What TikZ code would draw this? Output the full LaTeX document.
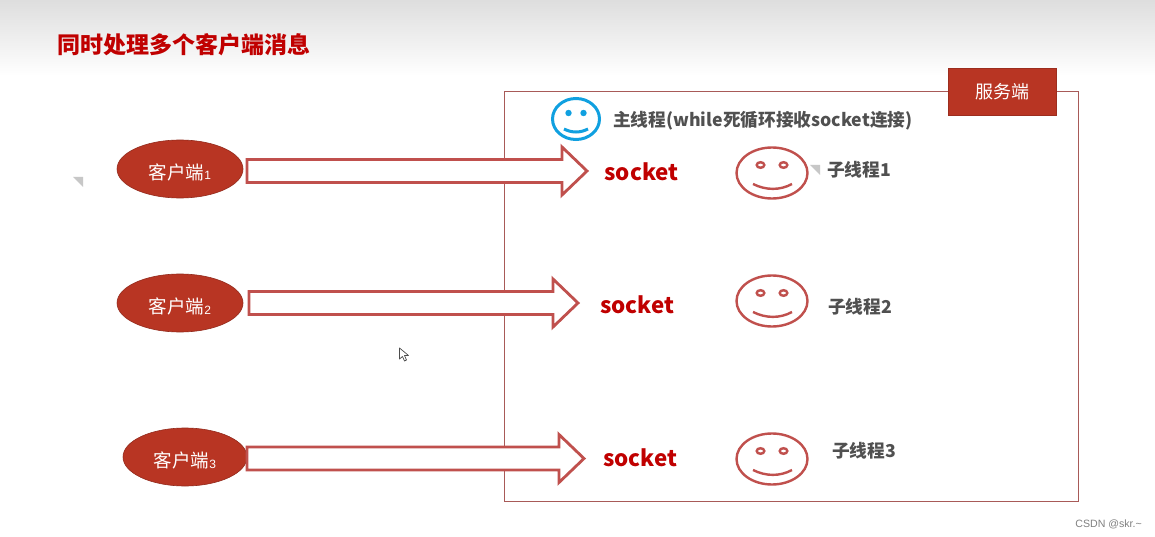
\documentclass[tikz,border=0pt]{standalone}
\usepackage{fontspec}
\setmainfont{Noto Sans CJK SC}
\newfontfamily\lat{Liberation Sans}
\usetikzlibrary{shapes.geometric,calc}
\definecolor{brick}{HTML}{B83523}
\definecolor{edge}{HTML}{C0504D}
\definecolor{boxline}{HTML}{A85A58}
\definecolor{titlered}{HTML}{C00000}
\definecolor{sky}{HTML}{10A0E0}
\definecolor{labelgray}{HTML}{505050}
\tikzset{
  x=1pt,y=-1pt,
  client/.style={ellipse,draw=brick!80!black,fill=brick,line width=.6pt,inner sep=0pt,minimum width=126pt,minimum height=58pt,text=white,font=\fontsize{18.5}{18}\selectfont},
  blockarrow/.style={draw=edge,line width=2.8pt,fill=white,line join=miter},
  sockettext/.style={text=titlered,font=\fontsize{22.3}{24}\selectfont\bfseries,inner sep=0pt},
  threadtext/.style={text=labelgray,font=\fontsize{17.7}{18}\selectfont\bfseries,inner sep=0pt},
  redface/.style={draw=edge,line width=2.4pt,fill=none},
  blueface/.style={draw=sky,line width=3pt,fill=none},
  marker/.style={fill=black!22,draw=none},
}
\newcommand{\blockarr}[3]{% start, tip, shaft half height
  \draw[blockarrow] ($(#1)+(0,-#3)$) -- ($(#2)+(-25,-#3)$) -- ($(#2)+(-25,-24)$) -- (#2)
    -- ($(#2)+(-25,24)$) -- ($(#2)+(-25,#3)$) -- ($(#1)+(0,#3)$) -- cycle;}
\newcommand{\redsmile}[1]{%
  \draw[redface] (#1) ellipse [x radius=35.5,y radius=25.5];
  \draw[redface] ($(#1)+(-11.5,-8)$) ellipse [x radius=3.8,y radius=2.8];
  \draw[redface] ($(#1)+(11.5,-8)$) ellipse [x radius=3.8,y radius=2.8];
  \draw[redface] ($(#1)+(-19,11)$) .. controls ($(#1)+(-6,17.5)$) and ($(#1)+(8,17.5)$) .. ($(#1)+(20,11)$);}
\newcommand{\clienttext}[1]{\raisebox{-10.5pt}[0pt][0pt]{客户端\raisebox{-.5pt}{\lat\fontsize{12}{12}\selectfont #1}}}
\begin{document}
\begin{tikzpicture}
\useasboundingbox (0,0) rectangle (1155,537);
\fill[white] (0,0) rectangle (1155,537);
\shade[top color=black!13,bottom color=white] (0,0) rectangle (1155,76);
\node[anchor=west,inner sep=0pt,text=titlered,font=\fontsize{23}{23}\selectfont\bfseries] (title) at (57,45) {同时处理多个客户端消息};
% server frame
\draw[boxline,line width=.9pt] (504,91) rectangle (1078,501);
\node[draw=brick!85!black,fill=brick,text=white,line width=.6pt,minimum width=108pt,minimum height=47pt,inner sep=0pt,font=\fontsize{18}{18}\selectfont] (server) at (1002,91.5) {服务端};
% clients
\node[client] (c1) at (180,169) {\clienttext{1}};
\node[client] (c2) at (180,303) {\clienttext{2}};
\node[client,minimum width=124pt] (c3) at (185,457) {\clienttext{3}};
% arrows
\coordinate (s1) at (247,171); \coordinate (t1) at (587,171);
\coordinate (s2) at (249,303); \coordinate (t2) at (578,303);
\coordinate (s3) at (247,458.5); \coordinate (t3) at (584,458.5);
\blockarr{s1}{t1}{11.5}
\blockarr{s2}{t2}{11.5}
\blockarr{s3}{t3}{11.5}
% sockets
\node[sockettext] (k1) at (641.5,172) {socket};
\node[sockettext] (k2) at (637,305) {socket};
\node[sockettext] (k3) at (640,458) {socket};
% main thread
\coordinate (bf) at (576,119);
\draw[blueface] (bf) ellipse [x radius=23.5,y radius=20.5];
\fill[sky] ($(bf)+(-7.5,-6)$) circle (3.2);
\fill[sky] ($(bf)+(7.5,-6)$) circle (3.2);
\draw[blueface] ($(bf)+(-12,10)$) .. controls ($(bf)+(-4,14)$) and ($(bf)+(4,14)$) .. ($(bf)+(12,10)$);
\node[anchor=west,threadtext] (main) at (613,120.5) {主线程(while死循环接收socket连接)};
% child threads
\coordinate (f1) at (772,173); \coordinate (f2) at (772,301); \coordinate (f3) at (772,459);
\redsmile{f1}\redsmile{f2}\redsmile{f3}
\node[anchor=west,threadtext] (w1) at (827,170) {子线程1};
\node[anchor=west,threadtext] (w2) at (828,306.5) {子线程2};
\node[anchor=west,threadtext] (w3) at (832,450.5) {子线程3};
% small grey markers
\fill[marker] (73,177) -- (83,177) -- (83,187) -- cycle;
\fill[marker] (810,165) -- (820,165) -- (820,175) -- cycle;
% mouse pointer
\draw[black!70,fill=white,line width=.7pt,line join=round] (399.5,348) -- (399.5,359) -- (402.5,356.5) -- (404.5,361) -- (406.5,360) -- (404.5,355.5) -- (408.5,355.5) -- cycle;
% watermark
\node[anchor=east,inner sep=0pt,text=black!50,font=\lat\fontsize{10.6}{10}\selectfont] (mark) at (1142,524) {CSDN @skr.\textasciitilde};
\end{tikzpicture}
\end{document}
